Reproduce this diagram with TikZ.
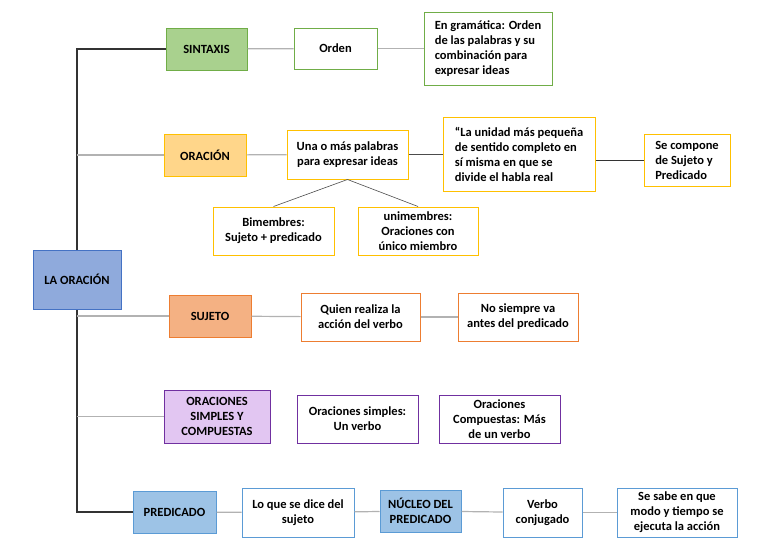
\documentclass[tikz,border=0pt]{standalone}
\usepackage{fontspec}
\setmainfont{Carlito}
\begin{document}
\begin{tikzpicture}[x=1pt,y=-1pt,
 bx/.style={draw,line width=1pt,align=center,inner sep=0pt,font=\fontsize{12.5}{15}\selectfont\bfseries},
 hd/.style={bx},
 gl/.style={draw=gray!60,line width=1.2pt},
 dl/.style={draw=black!80,line width=1.2pt}]
\definecolor{gF}{HTML}{A9D18E}\definecolor{gB}{HTML}{70AD47}
\definecolor{yF}{HTML}{FFD68A}\definecolor{yB}{HTML}{FFC000}
\definecolor{oF}{HTML}{F4B183}\definecolor{oB}{HTML}{ED7D31}
\definecolor{pF}{HTML}{E2C6F2}\definecolor{pB}{HTML}{7030A0}
\definecolor{bF}{HTML}{9DC3E6}\definecolor{bB}{HTML}{5B9BD5}
\definecolor{rF}{HTML}{8FAADC}\definecolor{rB}{HTML}{4472C4}
\useasboundingbox (0,0) rectangle (768,549);
\newcommand{\bnode}[6]{\node[#1,minimum width=#4-#3,minimum height=#6-#5] (#2) at ({(#3+#4)/2},{(#5+#6)/2})}
\bnode{hd,fill=rF,draw=rB}{root}{33}{121}{250}{309}{LA ORACIÓN};
\bnode{hd,fill=gF,draw=gB}{sin}{166}{247}{28}{70}{SINTAXIS};
\bnode{bx,draw=gB}{ord}{294}{377}{28}{69}{Orden};
\bnode{bx,draw=gB,align=left}{gram}{424}{552}{12}{85}{En gramática: Orden\\de las palabras y su\\combinación para\\expresar ideas};
\bnode{hd,fill=yF,draw=yB}{ora}{164}{246}{134}{176}{ORACIÓN};
\bnode{bx,draw=yB}{una}{287}{408}{130}{179}{Una o más palabras\\para expresar ideas};
\bnode{bx,draw=yB,align=left}{uni}{443}{595}{117}{191}{“La unidad más pequeña\\de sentido completo en\\sí misma en que se\\divide el habla real};
\bnode{bx,draw=yB,align=left}{comp}{644}{730}{134}{186}{Se compone\\de Sujeto y\\Predicado};
\bnode{bx,draw=yB}{bim}{213}{334}{207}{255}{Bimembres:\\Sujeto + predicado};
\bnode{bx,draw=yB}{unim}{358}{478}{207}{255}{unimembres:\\Oraciones con\\único miembro};
\bnode{hd,fill=oF,draw=oB}{suj}{169}{251}{295}{337}{SUJETO};
\bnode{bx,draw=oB}{qui}{301}{420}{293}{341}{Quien realiza la\\acción del verbo};
\bnode{bx,draw=oB}{nos}{458}{578}{293}{341}{No siempre va\\antes del predicado};
\bnode{hd,fill=pF,draw=pB}{osc}{164}{270}{390}{443}{ORACIONES\\SIMPLES Y\\COMPUESTAS};
\bnode{bx,draw=pB}{os}{297}{418}{395}{443}{Oraciones simples:\\Un verbo};
\bnode{bx,draw=pB}{oc}{439}{560}{395}{443}{Oraciones\\Compuestas: Más\\de un verbo};
\bnode{hd,fill=bF,draw=bB}{pre}{133}{216}{491}{533}{PREDICADO};
\bnode{bx,draw=bB}{loq}{242}{354}{488}{537}{Lo que se dice del\\sujeto};
\bnode{hd,fill=bF,draw=bB}{nuc}{380}{461}{490}{532}{NÚCLEO DEL\\PREDICADO};
\bnode{bx,draw=bB}{ver}{503}{582}{488}{537}{Verbo\\conjugado};
\bnode{bx,draw=bB}{ses}{617}{737}{488}{537}{Se sabe en que\\modo y tiempo se\\ejecuta la acción};
% trunk
\draw[dl] (sin.west) -| (root.north);
\draw[dl] (pre.west) -| (root.south);
\draw[gl] (ora.west) -- (ora.west -| root) ;
\draw[gl] (suj.west) -- (suj.west -| root);
\draw[gl] (osc.west) -- (osc.west -| root);
\draw[gl] (sin) -- (ord); \draw[gl] (ord) -- (ord.east -| gram.west);
\draw[gl] (ora) -- (una); \draw[draw=black!70,line width=0.8pt] (una.east) -- (una.east -| uni.west);
\draw[draw=black!80,line width=0.8pt] (uni.east |- comp.west) -- (comp.west);
\draw[black!70,line width=0.6pt] (una.south) -- (bim.north); \draw[black!70,line width=0.6pt] (una.south) -- (unim.north);
\draw[gl] (suj) -- (qui); \draw[gl] (qui) -- (nos);
\draw[gl] (pre) -- (loq); \draw[gl] (loq) -- (nuc); \draw[gl] (nuc) -- (ver); \draw[gl] (ver) -- (ses);
\end{tikzpicture}
\end{document}
